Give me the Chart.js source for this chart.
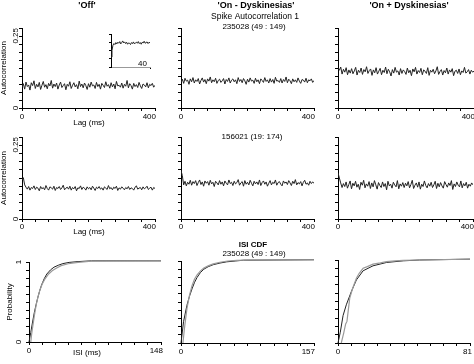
<!DOCTYPE html>
<html>
<head>
<meta charset="utf-8">
<script src="https://cdn.jsdelivr.net/npm/chart.js@4"></script>
<style>
	html, body { margin: 0; padding: 0; background: #fff; }
	#wrap { position: relative; width: 474px; height: 364px; overflow: hidden; }
	#wrap canvas { position: absolute; left: 0; top: 0; }
</style>
</head>
<body>
<div id="wrap"></div>
<script>
// ---- data (autocorrelation values in thousandths, one bin every 4 ms over 0-400 ms) ----
const lagMax = 400
const lagTicks = [0, 40, 80, 120, 160, 200, 240, 280, 320, 360, 400]
const acTicks = [0, 0.025, 0.05, 0.075, 0.1, 0.125, 0.15, 0.175, 0.2, 0.225, 0.25]

const offAC1 = [
	64,76,59,81,67,72,56,79,70,85, 61,74,66,80,58,71,83,65,73,60,
	77,69,86,62,75,67,78,59,72,81, 64,70,76,57,74,68,82,61,71,79,
	66,73,60,84,67,75,63,78,70,58, 76,65,81,69,72,61,80,67,74,59,
	77,71,64,82,68,73,62,79,66,75, 60,83,69,71,65,78,62,74,68,86,
	63,76,70,59,77,67,73,64,80,69, 61,75,72,66,79,63,74,70,77,65, 71]
const onMinusAC1 = [
	80,90,77,93,84,87,74,91,82,95, 78,88,83,92,75,86,94,81,89,76,
	91,84,97,79,88,82,93,77,86,90, 80,85,92,75,89,83,94,78,87,91,
	82,88,76,95,83,89,79,92,85,74, 90,81,94,84,87,77,93,82,88,76,
	91,86,80,95,83,88,78,92,81,89, 77,96,84,86,80,92,78,89,83,97,
	79,90,85,76,91,82,88,80,94,84, 77,89,87,81,93,79,88,85,91,80, 86]
const onPlusAC1 = [
	124,118,128,106,121,112,126,104,119,109, 123,107,116,127,103,118,111,125,105,120,
	113,129,108,117,122,102,119,110,126,106, 115,124,104,118,111,128,107,121,113,100,
	120,109,127,112,116,103,123,108,119,114, 105,125,110,118,101,122,113,127,106,117,
	111,124,104,119,115,108,126,102,118,112, 121,107,116,129,105,114,120,103,117,110,
	125,106,119,112,123,101,115,118,108,122, 104,116,111,127,109,113,120,106,118,112, 115]

const offAC2 = [
	118,126,104,97,91,99,88,96,93,101, 90,97,94,86,99,92,96,89,102,93,
	88,98,95,91,100,87,96,93,99,90, 95,103,89,94,97,91,100,88,96,92,
	99,86,95,93,101,90,97,94,88,98, 92,96,89,100,94,87,97,93,99,91,
	95,88,98,94,90,102,92,96,89,97, 93,100,87,95,91,98,94,89,96,92,
	99,90,95,93,88,97,101,91,94,96, 89,98,92,95,100,90,94,97,88,96, 93]
const onMinusAC2 = [
	148,132,104,115,101,112,106,118,103,114, 108,117,102,111,119,105,113,100,116,109,
	114,103,118,107,112,99,115,110,104,117, 106,113,101,116,109,104,119,108,112,102,
	115,107,111,120,103,110,114,100,117,106, 112,104,118,109,101,115,107,113,105,119,
	102,111,116,106,113,100,109,117,104,112, 108,119,103,111,114,106,101,116,109,113,
	105,117,110,102,115,108,120,104,111,107, 114,101,112,118,106,110,103,115,108,113, 109]
const onPlusAC2 = [
	141,125,110,96,108,99,113,94,105,116, 92,109,101,115,97,106,90,112,103,118,
	95,107,100,114,93,110,98,117,104,91, 111,102,96,113,99,108,89,115,101,106,
	94,112,104,98,117,92,107,100,111,96, 109,101,114,95,105,118,93,103,110,97,
	113,91,106,99,116,102,95,108,100,112, 96,104,115,93,109,98,111,101,94,114,
	105,97,110,102,117,90,107,99,113,103, 98,116,95,108,101,112,94,106,100,110, 104]

// inset: first 40 ms, 1 ms bins
const insetLagMax = 40
const insetAC = [30,50,66,71,68,74,70,75,72,77, 70,74,79,73,76,71,75,69,73,72,
	68,74,71,76,70,73,75,72,77,71, 74,69,75,73,78,72,74,76,71,75, 73]
const insetXTicks = [40]
const insetYTicks = [0, 0.025, 0.05, 0.075, 0.1]

// ---- ISI cumulative distributions ----
const probTicks = [0, 0.1, 0.2, 0.3, 0.4, 0.5, 0.6, 0.7, 0.8, 0.9, 1]
const isiTicksOff = [0, 14.8, 29.6, 44.4, 59.2, 74, 88.8, 103.6, 118.4, 133.2, 148]
const isiTicksOnMinus = [0, 15.7, 31.4, 47.1, 62.8, 78.5, 94.2, 109.9, 125.6, 141.3, 157]
const isiTicksOnPlus = [0, 8.1, 16.2, 24.3, 32.4, 40.5, 48.6, 56.7, 64.8, 72.9, 81]

const offIsiA = [0, 2, 4, 6, 8, 10, 12, 14, 17, 20, 24, 28, 33, 38, 45, 55, 70, 148]
const offCdfA = [0, 0.12, 0.25, 0.37, 0.47, 0.56, 0.64, 0.71, 0.79, 0.85, 0.9, 0.935, 0.96, 0.98, 0.995, 1.005, 1.015, 1.015]
const offIsiB = [2, 3, 4, 6, 8, 10, 12, 15, 18, 22, 26, 30, 36, 44, 55, 70, 148]
const offCdfB = [0, 0.1, 0.18, 0.33, 0.46, 0.56, 0.64, 0.73, 0.79, 0.85, 0.89, 0.92, 0.955, 0.978, 0.995, 1.01, 1.015]

const onMinusIsiA = [0, 3, 7, 10, 13, 16, 19, 23, 27, 32, 38, 46, 54, 64, 74, 157]
const onMinusCdfA = [0, 0.26, 0.46, 0.57, 0.66, 0.74, 0.8, 0.86, 0.9, 0.93, 0.955, 0.975, 0.99, 1.0, 1.01, 1.015]
const onMinusIsiB = [2.3, 4, 7, 10, 13, 16, 19, 23, 27, 32, 38, 46, 55, 66, 80, 157]
const onMinusCdfB = [0, 0.17, 0.42, 0.58, 0.7, 0.78, 0.83, 0.88, 0.915, 0.94, 0.965, 0.985, 1.0, 1.008, 1.012, 1.015]

const onPlusIsiA = [0, 1.4, 3.1, 5.1, 8.2, 11.3, 15.4, 21.5, 29.7, 40, 50, 81]
const onPlusCdfA = [0, 0.13, 0.33, 0.46, 0.62, 0.76, 0.87, 0.93, 0.97, 0.99, 1.0, 1.01]
const onPlusIsiB = [2, 3, 3.5, 4.7, 5.5, 7.2, 9, 11.3, 13, 15.4, 18, 21.5, 26, 29.7, 35, 40, 50, 81]
const onPlusCdfB = [0, 0.08, 0.12, 0.23, 0.26, 0.54, 0.66, 0.78, 0.84, 0.9, 0.92, 0.95, 0.965, 0.98, 0.99, 0.995, 1.0, 1.01]

// ---- drawing ----
const W = 474, H = 364
const FONT = '"Liberation Sans", Arial, sans-serif'
const tickFont = '8px ' + FONT
const wrap = document.getElementById('wrap')

const panelText = {
	id: 'panelText',
	afterDraw(chart, args, opts) {
		const ctx = chart.ctx
		const xs = chart.scales.x, ys = chart.scales.y
		ctx.save()
		ctx.fillStyle = '#000'
		ctx.font = tickFont;
		(opts.xLabels || []).forEach(l => {
			ctx.textAlign = l.align
			ctx.textBaseline = 'alphabetic'
			ctx.fillText(l.text, xs.getPixelForValue(l.value) + (l.dx || 0), opts.xLabelY)
		});
		(opts.yLabels || []).forEach(l => {
			ctx.save()
			ctx.translate(opts.yLabelX, ys.getPixelForValue(l.value))
			ctx.rotate(-Math.PI / 2)
			ctx.textAlign = l.align
			ctx.textBaseline = 'middle'
			ctx.fillText(l.text, 0, 0)
			ctx.restore()
		});
		(opts.texts || []).forEach(t => {
			ctx.save()
			ctx.font = t.font || tickFont
			ctx.translate(t.x, t.y)
			if (t.rot) ctx.rotate(-Math.PI / 2)
			ctx.textAlign = 'center'
			ctx.textBaseline = t.rot ? 'middle' : 'alphabetic'
			ctx.fillText(t.text, 0, 0)
			ctx.restore()
		})
		ctx.restore()
	}
}

function axis(min, max, ticks, color, tickLen) {
	return {
		type: 'linear', min, max,
		afterBuildTicks: s => { s.ticks = ticks.map(v => ({ value: v })) },
		afterFit: s => { if (s.isHorizontal()) s.height = 0; else s.width = 0 },
		ticks: { display: false },
		grid: { display: true, drawOnChartArea: false, drawTicks: true, tickLength: tickLen || 3, color: '#000', lineWidth: 1 },
		border: { display: true, color: color || '#000', width: 1 }
	}
}

function line(xs, ys, color, width) {
	return {
		data: xs.map((x, i) => ({ x, y: ys[i] })),
		borderColor: color, borderWidth: width || 1,
		pointRadius: 0, tension: 0, fill: false, clip: false
	}
}

function trace(vals, maxLag) {
	const n = vals.length
	return {
		data: vals.map((v, i) => ({ x: i * maxLag / (n - 1), y: v / 1000 })),
		borderColor: '#222', borderWidth: 1,
		pointRadius: 0, tension: 0, fill: false
	}
}

function makeChart(box, xAxis, yAxis, datasets, text) {
	const cv = document.createElement('canvas')
	cv.width = W; cv.height = H
	wrap.appendChild(cv)
	return new Chart(cv.getContext('2d'), {
		type: 'line',
		data: { datasets },
		options: {
			responsive: false, animation: false, events: [], devicePixelRatio: 1,
			layout: { padding: { left: box.l, top: box.t, right: W - box.r, bottom: H - box.b } },
			scales: { x: xAxis, y: yAxis },
			plugins: { legend: { display: false }, tooltip: { enabled: false }, panelText: text }
		},
		plugins: [panelText]
	})
}

const acY = [{ value: 0, text: '0', align: 'center' }, { value: 0.25, text: '0.25', align: 'right' }]
const probY = [{ value: 0, text: '0', align: 'center' }, { value: 1, text: '1', align: 'center' }]
const lagX = [{ value: 0, text: '0', align: 'center' }, { value: 400, text: '400', align: 'right', dx: 1 }]

const headers = [
	{ text: "'Off'", x: 87, y: 8, font: 'bold 9px ' + FONT },
	{ text: "'On - Dyskinesias'", x: 256, y: 8, font: 'bold 9px ' + FONT },
	{ text: "'On + Dyskinesias'", x: 409, y: 8, font: 'bold 9px ' + FONT },
	{ text: 'Spike Autocorrelation 1', x: 255, y: 19, font: '8.5px ' + FONT },
	{ text: '235028 (49 : 149)', x: 254, y: 29, font: '8px ' + FONT },
	{ text: '156021 (19: 174)', x: 252, y: 139, font: '8px ' + FONT },
	{ text: 'ISI CDF', x: 253, y: 247, font: 'bold 8px ' + FONT },
	{ text: '235028 (49 : 149)', x: 254, y: 256, font: '8px ' + FONT }
]

// row 1: autocorrelation, first unit
makeChart({ l: 22, r: 155, t: 28, b: 108 }, axis(0, lagMax, lagTicks), axis(0, 0.25, acTicks),
	[trace(offAC1, lagMax)],
	{ xLabels: lagX, xLabelY: 119, yLabels: acY, yLabelX: 16, texts: headers.concat([
		{ text: 'Autocorrelation', x: 4, y: 68, rot: true },
		{ text: 'Lag (ms)', x: 89, y: 125 }]) })
makeChart({ l: 181, r: 314, t: 28, b: 108 }, axis(0, lagMax, lagTicks), axis(0, 0.25, acTicks),
	[trace(onMinusAC1, lagMax)], { xLabels: lagX, xLabelY: 119 })
makeChart({ l: 338, r: 474, t: 28, b: 108 }, axis(0, lagMax, lagTicks), axis(0, 0.25, acTicks),
	[trace(onPlusAC1, lagMax)], { xLabels: lagX, xLabelY: 119 })

// inset (first 40 ms of the 'Off' trace)
makeChart({ l: 111, r: 150, t: 34, b: 67 }, axis(0, insetLagMax, insetXTicks, '#999', 2), axis(0, 0.1, insetYTicks, '#000', 2),
	[trace(insetAC, insetLagMax)],
	{ xLabels: [{ value: 40, text: '40', align: 'right', dx: -3 }], xLabelY: 66 })

// row 2: autocorrelation, second unit
makeChart({ l: 22, r: 155, t: 137, b: 219 }, axis(0, lagMax, lagTicks), axis(0, 0.25, acTicks),
	[trace(offAC2, lagMax)],
	{ xLabels: lagX, xLabelY: 229, yLabels: acY, yLabelX: 16, texts: [
		{ text: 'Autocorrelation', x: 4, y: 178, rot: true },
		{ text: 'Lag (ms)', x: 89, y: 234 }] })
makeChart({ l: 181, r: 314, t: 137, b: 219 }, axis(0, lagMax, lagTicks), axis(0, 0.25, acTicks),
	[trace(onMinusAC2, lagMax)], { xLabels: lagX, xLabelY: 229 })
makeChart({ l: 338, r: 473, t: 137, b: 219 }, axis(0, lagMax, lagTicks), axis(0, 0.25, acTicks),
	[trace(onPlusAC2, lagMax)], { xLabels: lagX, xLabelY: 229 })

// row 3: ISI CDF
makeChart({ l: 29, r: 161, t: 262, b: 342 }, axis(0, 148, isiTicksOff), axis(0, 1, probTicks),
	[line(offIsiB, offCdfB, '#9a9a9a', 1.2), line(offIsiA, offCdfA, '#222', 1)],
	{ xLabels: [{ value: 0, text: '0', align: 'center' }, { value: 148, text: '148', align: 'right', dx: 2 }], xLabelY: 353,
		yLabels: probY, yLabelX: 19, texts: [
		{ text: 'Probability', x: 10, y: 302, rot: true },
		{ text: 'ISI (ms)', x: 87, y: 355 }] })
makeChart({ l: 181, r: 314, t: 261, b: 343 }, axis(0, 157, isiTicksOnMinus), axis(0, 1, probTicks),
	[line(onMinusIsiB, onMinusCdfB, '#9a9a9a', 1.2), line(onMinusIsiA, onMinusCdfA, '#222', 1)],
	{ xLabels: [{ value: 0, text: '0', align: 'center' }, { value: 157, text: '157', align: 'right', dx: 1 }], xLabelY: 354 })
makeChart({ l: 338, r: 470, t: 260, b: 343 }, axis(0, 81, isiTicksOnPlus), axis(0, 1, probTicks),
	[line(onPlusIsiB, onPlusCdfB, '#9a9a9a', 1.2), line(onPlusIsiA, onPlusCdfA, '#222', 1)],
	{ xLabels: [{ value: 0, text: '0', align: 'center' }, { value: 81, text: '81', align: 'right', dx: 2 }], xLabelY: 354 })
</script>
</body>
</html>
